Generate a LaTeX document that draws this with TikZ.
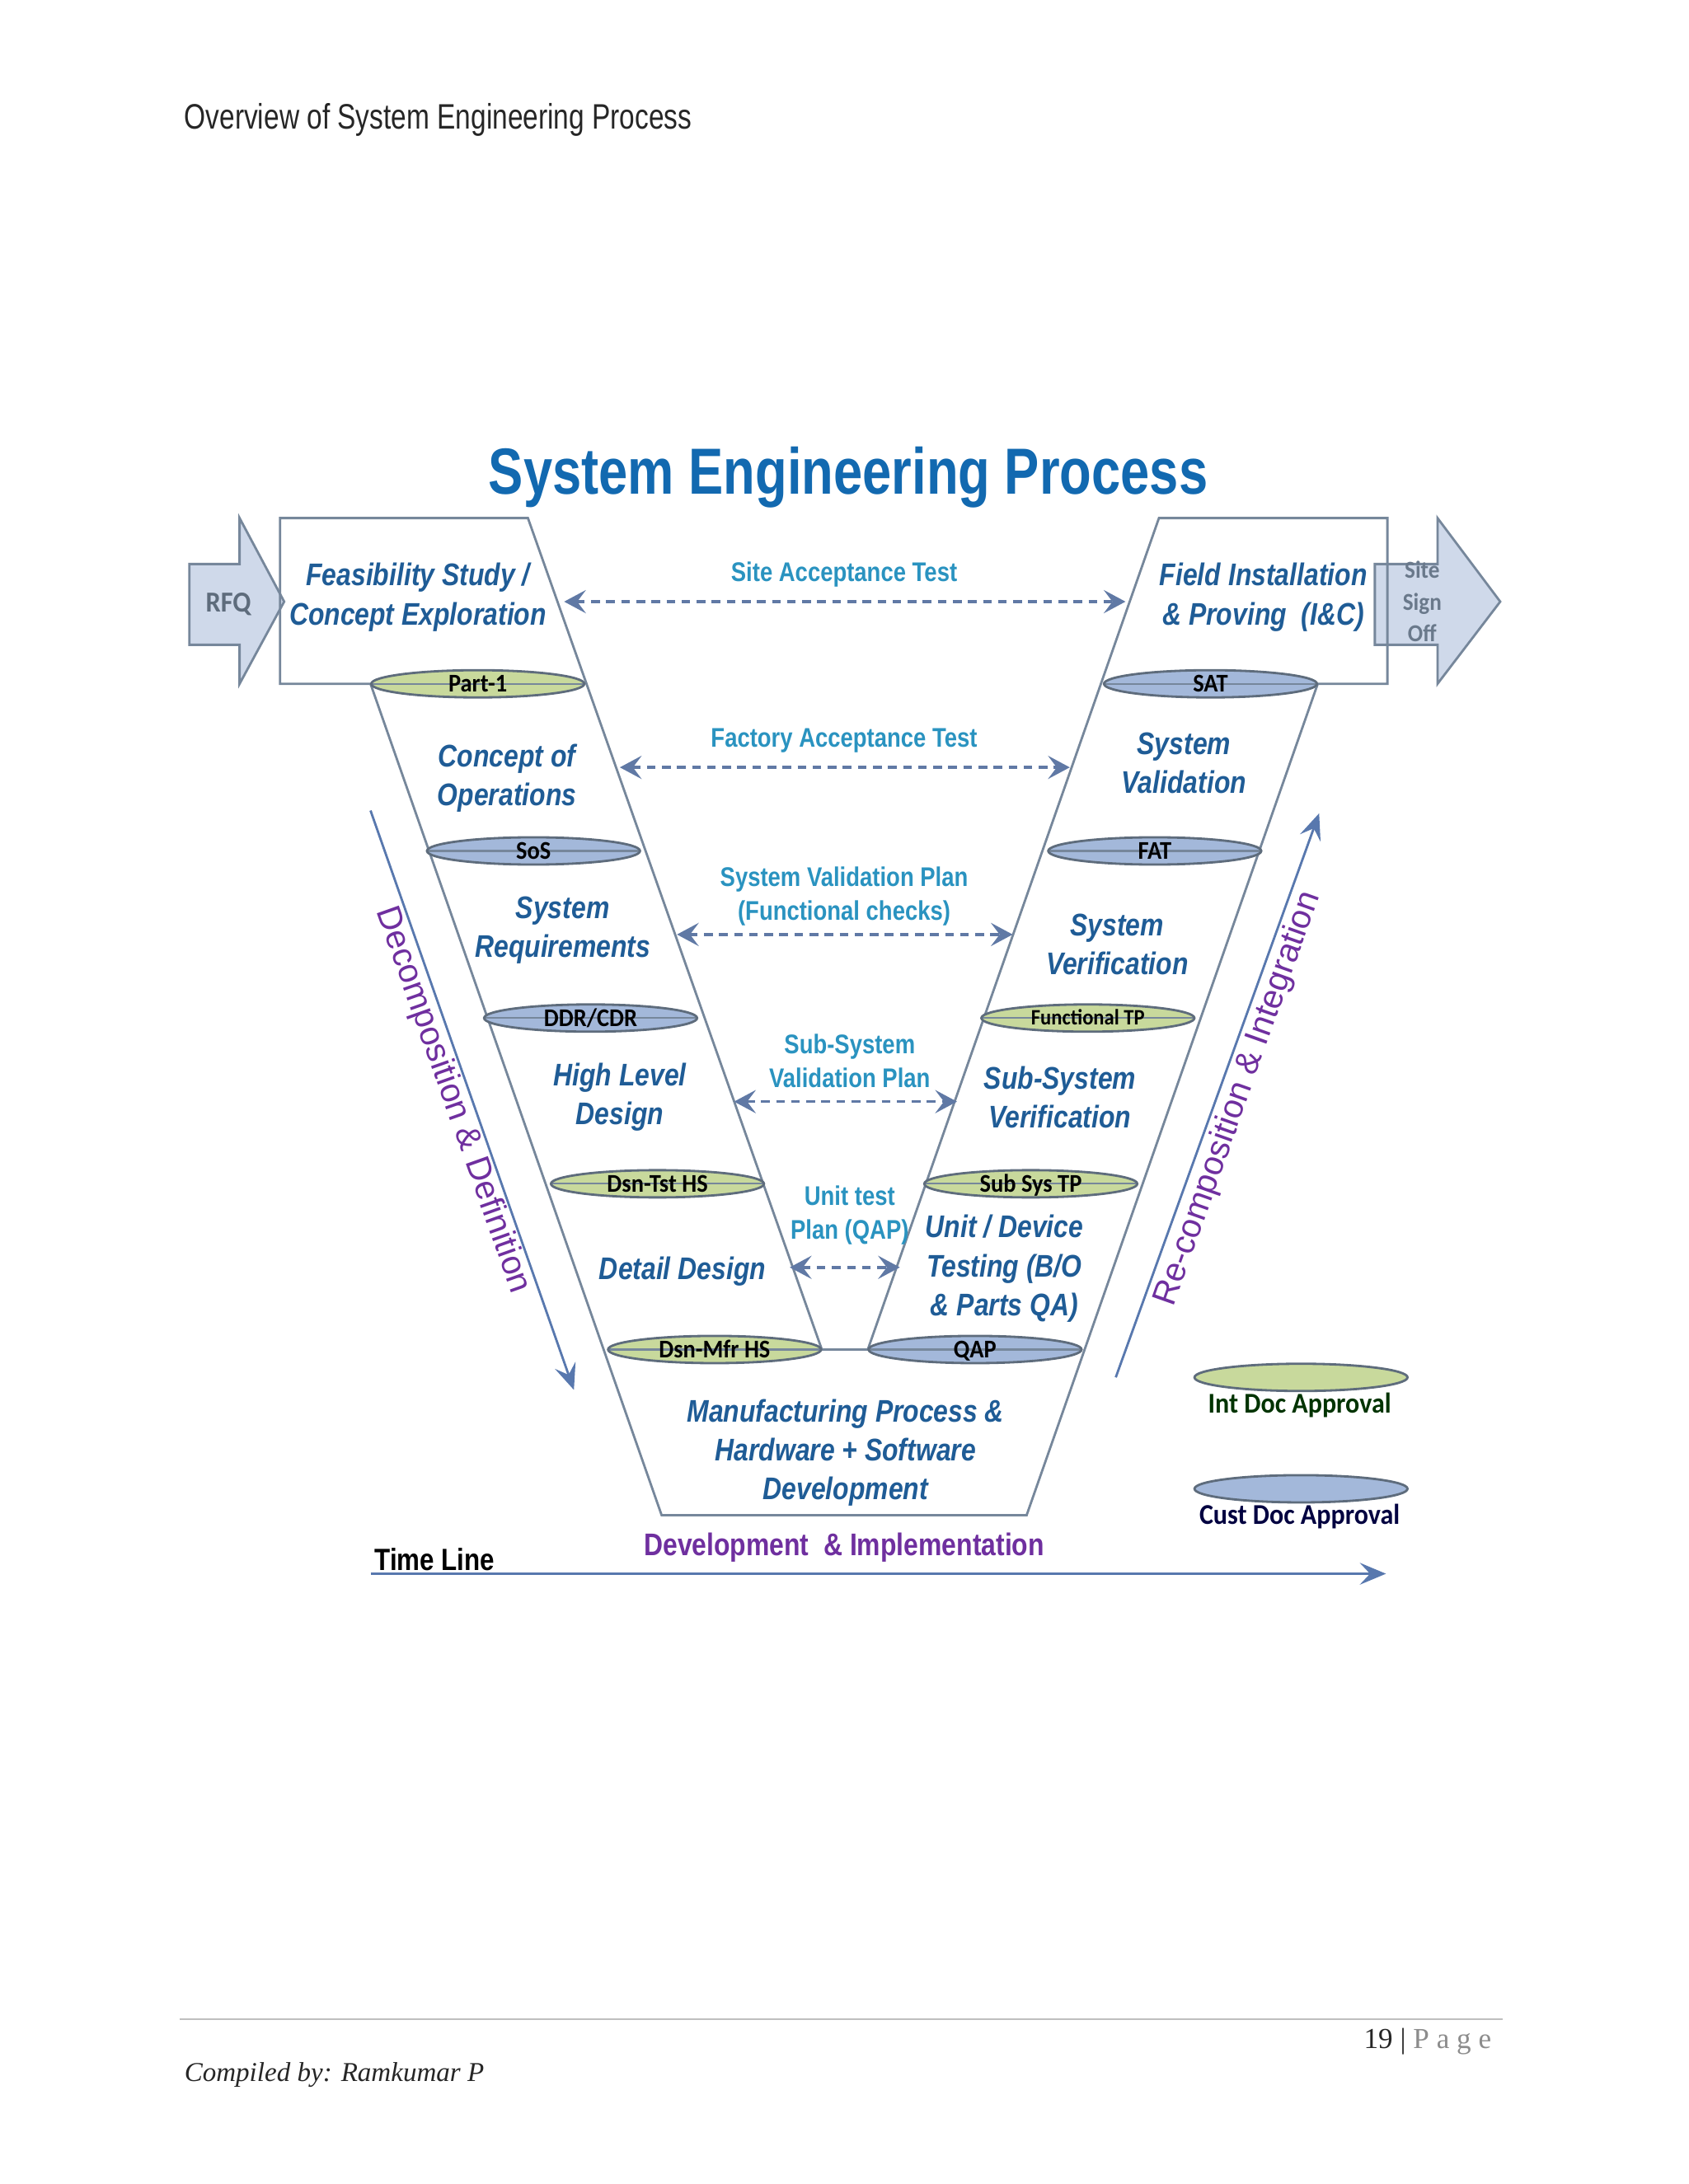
\documentclass[tikz,border=0pt]{standalone}
\usepackage{fontspec}
\usetikzlibrary{shapes.geometric,arrows.meta}
\setmainfont{Liberation Sans}
\newfontfamily\stagefont[FakeStretch=0.84]{Liberation Sans}
\newfontfamily\headfont[FakeStretch=0.78]{Liberation Sans}
\newfontfamily\titlefont[FakeStretch=0.8]{Liberation Sans}
\newfontfamily\calfont[FakeStretch=0.92]{Carlito}
\newfontfamily\timesfont{Liberation Serif}
\newcommand\doctext[1]{\raisebox{-.32em}[0pt][0pt]{#1}}
\definecolor{stageblue}{HTML}{1F5C96}
\definecolor{cyanlabel}{HTML}{2A93C0}
\definecolor{purplelabel}{HTML}{6F2F9F}
\definecolor{titleblue}{HTML}{1269B0}
\definecolor{linegray}{HTML}{76879B}
\definecolor{arrowblue}{HTML}{5878AE}
\definecolor{greenfill}{HTML}{C8D99C}
\definecolor{bluefill}{HTML}{A3B8DA}
\definecolor{blockfill}{HTML}{CFD9EA}
\tikzset{
  outline/.style={draw=linegray,line width=0.8pt,line join=miter},
  blockarrow/.style={draw=linegray,line width=0.8pt,fill=blockfill},
  doc/.style={ellipse,draw=linegray!80!black,line width=0.8pt,minimum width=73.5pt,minimum height=9.4pt,inner sep=0pt,
    font=\calfont\bfseries\fontsize{8.8}{10}\selectfont,text=black,
    path picture={\draw[linegray,line width=0.6pt] (path picture bounding box.west) -- (path picture bounding box.east);}},
  greendoc/.style={doc,fill=greenfill},
  bluedoc/.style={doc,fill=bluefill},
  stage/.style={align=center,yshift=-0.9pt,text=stageblue,font=\stagefont\bfseries\itshape\fontsize{10.8}{13.4}\selectfont},
  gate/.style={align=center,yshift=-0.8pt,text=cyanlabel,font=\stagefont\bfseries\fontsize{9.3}{11.6}\selectfont},
  purple/.style={text=purplelabel,font=\stagefont\bfseries\fontsize{10.8}{12}\selectfont},
  flow/.style={text=purplelabel,font=\fontsize{11.7}{12}\selectfont},
  dasharrow/.style={draw=arrowblue!80!gray,line width=1pt,dash pattern=on 3pt off 2.2pt,{Stealth[inset=3pt,length=7.5pt,width=8pt]}-{Stealth[inset=3pt,length=7.5pt,width=8pt]}},
  longarrow/.style={draw=arrowblue,line width=0.8pt,-{Stealth[inset=3.5pt,length=9pt,width=7.5pt]}},
  legendtext/.style={font=\calfont\bfseries\fontsize{9.9}{12}\selectfont}
}
\begin{document}
\begin{tikzpicture}[x=0.016898cm,y=-0.016898cm]
\useasboundingbox (0,0) rectangle (1212,1568.2);
% page text
\node[anchor=west,inner sep=0pt,font=\headfont\fontsize{12.2}{14}\selectfont,text=black!85] (head) at (132,86) {Overview of System Engineering Process};
\node[anchor=west,inner sep=0pt,font=\timesfont\itshape\fontsize{9.4}{12}\selectfont,text=black!85] (comp) at (132,1490) {Compiled by: Ramkumar P};
\node[anchor=east,inner sep=0pt,font=\timesfont\fontsize{10}{12}\selectfont,text=black!85] (page) at (1071,1466) {19 | \textcolor{black!45}{P a g e}};
\coordinate (ruleL) at (129,1450);
\coordinate (ruleR) at (1079,1450);
\draw[black!25,line width=0.6pt] (ruleL) -- (ruleR);
% title
\node[text=titleblue,font=\titlefont\bfseries\fontsize{22.5}{26}\selectfont] (title) at (609,343) {System Engineering Process};
% block arrows
\draw[blockarrow] (136,405) -- (172,405) -- (172,372) -- (204,432) -- (172,491) -- (172,463) -- (136,463) -- cycle;
\draw[blockarrow] (987,405) -- (1032,405) -- (1032,372) -- (1077,432) -- (1032,491) -- (1032,463) -- (987,463) -- cycle;
\node[font=\calfont\bfseries\fontsize{10}{10}\selectfont,text=linegray!80!black] (rfq) at (164,434) {RFQ};
\node[align=center,font=\calfont\bfseries\fontsize{8.4}{11}\selectfont,text=linegray!90!black] (sso) at (1021,432) {Site\\Sign\\Off};
% V outline
\draw[outline] (201,372) -- (379,372) -- (590,969) -- (623,969) -- (832,372) -- (996,372) -- (996,491) -- (946,491) -- (737,1088) -- (475,1088) -- (266,491) -- (201,491) -- cycle;
% stage text
\node[stage] (s1) at (300,427) {Feasibility Study /\\Concept Exploration};
\node[stage] (s2) at (364,557) {Concept of\\Operations};
\node[stage] (s3) at (404,666) {System\\Requirements};
\node[stage] (s4) at (445,786) {High Level\\Design};
\node[stage] (s5) at (490,911) {Detail Design};
\node[stage] (s6) at (607,1041) {Manufacturing Process \&\\Hardware + Software\\Development};
\node[stage] (s7) at (721,909) {Unit / Device\\Testing (B/O\\\& Parts QA)};
\node[stage] (s8) at (761,786) {Sub-System\\Verification};
\node[stage] (s9) at (802,676) {System\\Verification};
\node[stage] (s10) at (850,546) {System\\Validation};
\node[stage] (s11) at (907,427) {Field Installation\\\& Proving~~(I\&C)};
% gate labels
\node[gate] (g1) at (606,411) {Site Acceptance Test};
\node[gate] (g2) at (606,530) {Factory Acceptance Test};
\node[gate] (g3) at (606,642) {System Validation Plan\\(Functional checks)};
\node[gate] (g4) at (610,760) {Sub-System\\Validation Plan};
\node[gate] (g5) at (610,871) {Unit test\\Plan (QAP)};
% dashed arrows
\coordinate (a1l) at (405,432); \coordinate (a1r) at (808,432);
\coordinate (a2l) at (445,551); \coordinate (a2r) at (768,551);
\coordinate (a3l) at (486,671); \coordinate (a3r) at (727,671);
\coordinate (a4l) at (527,791); \coordinate (a4r) at (687,791);
\coordinate (a5l) at (567,910); \coordinate (a5r) at (646,910);
\draw[dasharrow] (a1l) -- (a1r);
\draw[dasharrow] (a2l) -- (a2r);
\draw[dasharrow] (a3l) -- (a3r);
\draw[dasharrow] (a4l) -- (a4r);
\draw[dasharrow] (a5l) -- (a5r);
% ellipses
\node[greendoc] (part1) at (343,491) {\doctext{Part-1}};
\node[bluedoc] (sos) at (383,611) {\doctext{SoS}};
\node[bluedoc] (ddr) at (424,731) {\doctext{DDR/CDR}};
\node[greendoc] (dsntst) at (472,850) {\doctext{Dsn-Tst HS}};
\node[greendoc] (dsnmfr) at (513,969) {\doctext{Dsn-Mfr HS}};
\node[bluedoc] (qap) at (700,969) {\doctext{QAP}};
\node[greendoc] (subsys) at (740,850) {\doctext{Sub Sys TP}};
\node[greendoc,font=\calfont\bfseries\fontsize{7.6}{10}\selectfont] (func) at (781,731) {\doctext{Functional TP}};
\node[bluedoc] (fat) at (829,611) {\doctext{FAT}};
\node[bluedoc] (sat) at (869,491) {\doctext{SAT}};
% long arrows
\coordinate (dStart) at (266,582); \coordinate (dEnd) at (412,998);
\coordinate (rStart) at (801,989); \coordinate (rEnd) at (947,584);
\coordinate (tStart) at (266,1130); \coordinate (tEnd) at (995,1130);
\draw[longarrow] (dStart) -- (dEnd);
\draw[longarrow] (rStart) -- (rEnd);
\draw[longarrow,line width=1.1pt] (tStart) -- (tEnd);
\node[flow,rotate=-70.5] (decomp) at (325,790) {Decomposition \& Definition};
\node[flow,rotate=70.5] (recomp) at (889,789) {Re-composition \& Integration};
\node[purple] (dev) at (606,1111) {Development~~\& Implementation};
\node[font=\stagefont\bfseries\fontsize{10.6}{12}\selectfont,text=black] (time) at (312,1120) {Time Line};
% legend
\node[greendoc,path picture={}] (lg) at (934,989) {};
\node[bluedoc,path picture={}] (lb) at (934,1069) {};
\node[legendtext,text=black!60!green!50!black] (lgt) at (933,1009) {Int Doc Approval};
\node[legendtext,text=black!75!blue] (lbt) at (933,1089) {Cust Doc Approval};
\end{tikzpicture}
\end{document}
